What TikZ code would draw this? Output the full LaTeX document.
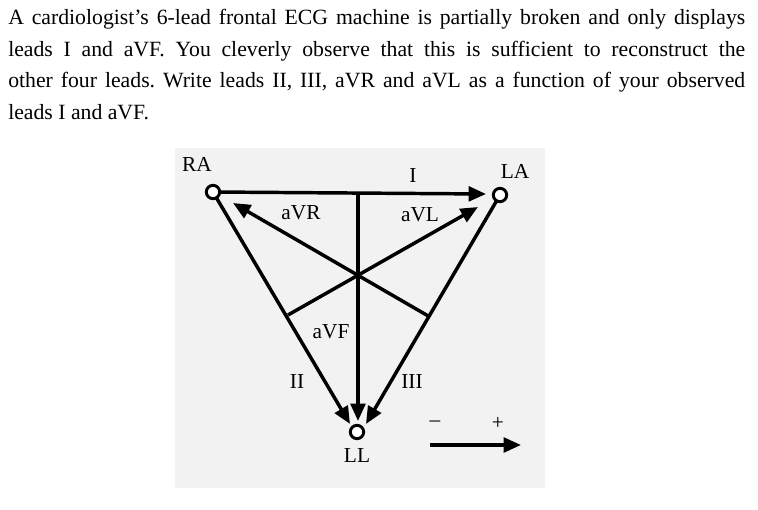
\documentclass[tikz,border=0pt]{standalone}
\usepackage{fontspec}
\setmainfont{Liberation Serif}
\usetikzlibrary{arrows.meta}
\frenchspacing
\begin{document}
\begin{tikzpicture}[x=0.75pt,y=-0.75pt,
  ln/.style={line width=2.6pt},
  ar/.style={ln,-{Triangle[length=13pt,width=11pt]}},
  pin/.style={circle,draw,line width=2.2pt,minimum size=10pt,inner sep=0pt,fill=white},
  lbl/.style={font=\fontsize{16}{18}\selectfont,inner sep=0pt},
  txt/.style={anchor=base west,inner sep=0pt,font=\fontsize{16.3}{19}\selectfont}]
\useasboundingbox (0,0) rectangle (758,510);
\fill[white] (0,0) rectangle (758,510);
\node[txt] (t1) at (8,25) {\makebox[552.75pt][s]{A cardiologist’s 6-lead frontal ECG machine is partially broken and only displays}};
\node[txt] (t2) at (8,57) {\makebox[552.75pt][s]{leads I and aVF. You cleverly observe that this is sufficient to reconstruct the}};
\node[txt] (t3) at (8,88) {\makebox[552.75pt][s]{other four leads. Write leads II, III, aVR and aVL as a function of your observed}};
\node[txt] (t4) at (8,120) {leads I and aVF.};
\fill[black!5] (175,148) rectangle (545,488);
\coordinate (c) at (358,275);
\coordinate (ra) at (213,192);
\coordinate (la) at (500,195);
\coordinate (ll) at (357,432);
\coordinate (itop) at (358,194);
\coordinate (avrt) at (430,317);
\coordinate (avlt) at (288,315);
\coordinate (avrh) at (233,203);
\coordinate (avlh) at (478,207);
\coordinate (ih) at (486,194);
\coordinate (iih) at (350,424);
\coordinate (iiih) at (366,424);
\coordinate (avfh) at (358,421);
\draw[ar] (ra) -- (ih);
\draw[ar] (ra) -- (iih);
\draw[ar] (la) -- (iiih);
\draw[ar] (itop) -- (avfh);
\draw[ar] (avrt) -- (avrh);
\draw[ar] (avlt) -- (avlh);
\node[pin] (pra) at (ra) {};
\node[pin] (pla) at (la) {};
\node[pin] (pll) at (ll) {};
\node[lbl] (lra) at (197,164) {RA};
\node[lbl] (li) at (413,176) {I};
\node[lbl] (lla) at (515,171) {LA};
\node[lbl] (lavr) at (301,213) {aVR};
\node[lbl] (lavl) at (420,215) {aVL};
\node[lbl] (lavf) at (331,332) {aVF};
\node[lbl] (lii) at (297,382) {II};
\node[lbl] (liii) at (412,382) {III};
\node[lbl] (lll) at (357,456) {LL};
\node[lbl] (lm) at (435,424) {–};
\node[lbl] (lp) at (498,423) {+};
\coordinate (pa) at (430,445);
\coordinate (pb) at (521,445);
\draw[ar] (pa) -- (pb);
\end{tikzpicture}
\end{document}
